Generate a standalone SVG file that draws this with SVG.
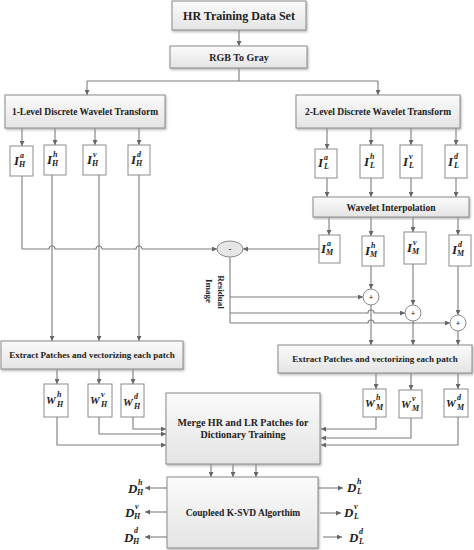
<svg xmlns="http://www.w3.org/2000/svg" width="474" height="550" viewBox="0 0 474 550">
<defs>
<linearGradient id="g" x1="0" y1="0" x2="0" y2="1"><stop offset="0" stop-color="#fbfbfb"/><stop offset="1" stop-color="#e4e4e4"/></linearGradient>
<filter id="sh" x="-5%" y="-5%" width="110%" height="120%"><feDropShadow dx="1" dy="1.5" stdDeviation="0.8" flood-color="#999" flood-opacity="0.7"/></filter>
<marker id="ah" viewBox="0 0 6 6" refX="6" refY="3" markerWidth="5" markerHeight="5" markerUnits="userSpaceOnUse" orient="auto"><path d="M0,0 L6,3 L0,6 z" fill="#666"/></marker>
<style>
.box{fill:url(#g);stroke:#8c8c8c;stroke-width:1;filter:url(#sh)}
.sb{fill:#fff;stroke:#8c8c8c;stroke-width:1}
.ln{fill:none;stroke:#7c7c7c;stroke-width:1.1}
.a{marker-end:url(#ah)}
.t{font-family:"Liberation Serif","Times New Roman",serif;font-weight:bold;fill:#222;text-anchor:middle}
.m{font-family:"Liberation Serif","Times New Roman",serif;font-weight:bold;font-style:italic;fill:#222;font-size:13px}
.w{font-size:11px}
.s{font-size:8px}
.op{fill:#e6e6e6;stroke:#8c8c8c;stroke-width:1}
.pc{fill:#fff;stroke:#8c8c8c;stroke-width:1}
</style>
</defs>
<g id="connectors">
<path class="ln a" d="M239 30 V46"/>
<path class="ln" d="M239 68 V81 M87 81 H378"/>
<path class="ln a" d="M87 81 V95"/>
<path class="ln a" d="M378 81 V95"/>
<path class="ln a" d="M22 128 V146"/>
<path class="ln a" d="M55 128 V145"/>
<path class="ln a" d="M95 128 V145"/>
<path class="ln a" d="M139 128 V145"/>
<path class="ln a" d="M22 176 V249 H49 A3 3 0 0 1 55 249 H96 A3 3 0 0 1 102 249 H136 A3 3 0 0 1 142 249 H217"/>
<path class="ln a" d="M52 175 V341"/>
<path class="ln a" d="M99 175 V341"/>
<path class="ln a" d="M139 175 V341"/>
<path class="ln a" d="M57 369 V384"/>
<path class="ln a" d="M99 369 V384"/>
<path class="ln a" d="M133 369 V384"/>
<path class="ln a" d="M57 417 V445 H166"/>
<path class="ln a" d="M99 417 V434 H166"/>
<path class="ln a" d="M133 417 V429 H166"/>
<path class="ln a" d="M327 128 V149"/>
<path class="ln a" d="M371 128 V145"/>
<path class="ln a" d="M411 128 V145"/>
<path class="ln a" d="M456 128 V145"/>
<path class="ln a" d="M327 178 V197"/>
<path class="ln a" d="M371 178 V197"/>
<path class="ln a" d="M411 178 V197"/>
<path class="ln a" d="M456 178 V197"/>
<path class="ln a" d="M329 217 V235"/>
<path class="ln a" d="M371 217 V236"/>
<path class="ln a" d="M413 217 V232"/>
<path class="ln a" d="M458 217 V235"/>
<path class="ln a" d="M319 249 H243"/>
<path class="ln a" d="M371 266 V289"/>
<path class="ln a" d="M413 264 V305"/>
<path class="ln a" d="M458 266 V315"/>
<path class="ln" d="M230 257 V323"/>
<path class="ln a" d="M230 297 H363"/>
<path class="ln a" d="M230 313 H368 A3 3 0 0 1 374 313 H405"/>
<path class="ln a" d="M230 323 H368 A3 3 0 0 1 374 323 H450"/>
<path class="ln a" d="M371 305 V345"/>
<path class="ln a" d="M413 321 V345"/>
<path class="ln a" d="M458 331 V345"/>
<path class="ln a" d="M376 373 V389"/>
<path class="ln a" d="M411 373 V390"/>
<path class="ln a" d="M458 373 V389"/>
<path class="ln a" d="M376 417 V429 H321"/>
<path class="ln a" d="M411 418 V438 H321"/>
<path class="ln a" d="M458 417 V445 H321"/>
<path class="ln a" d="M211 464 V477"/>
<path class="ln a" d="M233 464 V477"/>
<path class="ln a" d="M256 464 V477"/>
<path class="ln a" d="M167 488 H145"/>
<path class="ln a" d="M167 512 H145"/>
<path class="ln a" d="M167 537 H145"/>
<path class="ln a" d="M318 488 H343"/>
<path class="ln a" d="M320 513 H341"/>
<path class="ln a" d="M323 537 H342"/>
</g>
<g id="hr"><rect class="box" x="172" y="1" width="134" height="29"/><text class="t" x="239" y="20" font-size="12">HR Training Data Set</text></g>
<g id="rgb"><rect class="box" x="170" y="46" width="137" height="22"/><text class="t" x="239" y="60.5" font-size="10">RGB To Gray</text></g>
<g id="dwt1"><rect class="box" x="5" y="95" width="160" height="33"/><text class="t" x="85" y="115" font-size="9.5">1-Level Discrete Wavelet Transform</text></g>
<g id="dwt2"><rect class="box" x="296" y="95" width="164" height="33"/><text class="t" x="378" y="115" font-size="9.5">2-Level Discrete Wavelet Transform</text></g>
<g id="iha"><rect class="sb" x="10" y="146" width="23" height="30"/><text class="m"><tspan x="14" y="165">I</tspan><tspan class="s" x="20" y="158">a</tspan><tspan class="s" x="19" y="167">H</tspan></text></g>
<g id="ihh"><rect class="sb" x="44" y="145" width="22" height="30"/><text class="m"><tspan x="47" y="164">I</tspan><tspan class="s" x="53" y="157">h</tspan><tspan class="s" x="52" y="166">H</tspan></text></g>
<g id="ihv"><rect class="sb" x="83" y="145" width="23" height="30"/><text class="m"><tspan x="87" y="164">I</tspan><tspan class="s" x="93" y="157">v</tspan><tspan class="s" x="92" y="166">H</tspan></text></g>
<g id="ihd"><rect class="sb" x="128" y="145" width="22" height="30"/><text class="m"><tspan x="131" y="164">I</tspan><tspan class="s" x="137" y="157">d</tspan><tspan class="s" x="136" y="166">H</tspan></text></g>
<g id="ila"><rect class="sb" x="315" y="149" width="22" height="29"/><text class="m"><tspan x="318" y="167">I</tspan><tspan class="s" x="324" y="160">a</tspan><tspan class="s" x="324" y="169">L</tspan></text></g>
<g id="ilh"><rect class="sb" x="360" y="145" width="23" height="33"/><text class="m"><tspan x="364" y="166">I</tspan><tspan class="s" x="370" y="159">h</tspan><tspan class="s" x="370" y="168">L</tspan></text></g>
<g id="ilv"><rect class="sb" x="400" y="145" width="22" height="33"/><text class="m"><tspan x="403" y="166">I</tspan><tspan class="s" x="409" y="159">v</tspan><tspan class="s" x="409" y="168">L</tspan></text></g>
<g id="ild"><rect class="sb" x="445" y="145" width="22" height="33"/><text class="m"><tspan x="448" y="166">I</tspan><tspan class="s" x="454" y="159">d</tspan><tspan class="s" x="454" y="168">L</tspan></text></g>
<g id="wi"><rect class="box" x="313" y="197" width="156" height="20"/><text class="t" x="391" y="210.5" font-size="9.5">Wavelet Interpolation</text></g>
<g id="ima"><rect class="sb" x="319" y="235" width="21" height="28"/><text class="m"><tspan x="321" y="253">I</tspan><tspan class="s" x="327" y="246">a</tspan><tspan class="s" x="326" y="255">M</tspan></text></g>
<g id="imh"><rect class="sb" x="362" y="236" width="22" height="30"/><text class="m"><tspan x="365" y="255">I</tspan><tspan class="s" x="371" y="248">h</tspan><tspan class="s" x="370" y="257">M</tspan></text></g>
<g id="imv"><rect class="sb" x="404" y="232" width="22" height="32"/><text class="m"><tspan x="407" y="252">I</tspan><tspan class="s" x="413" y="245">v</tspan><tspan class="s" x="412" y="254">M</tspan></text></g>
<g id="imd"><rect class="sb" x="449" y="235" width="22" height="31"/><text class="m"><tspan x="452" y="254">I</tspan><tspan class="s" x="458" y="247">d</tspan><tspan class="s" x="457" y="256">M</tspan></text></g>
<g id="minus"><ellipse class="op" cx="230" cy="249" rx="13" ry="8"/><text class="t" x="230" y="252" font-size="9">-</text></g>
<g id="residual"><text class="t" font-size="9" transform="translate(217.5,292) rotate(90)">Residual</text><text class="t" font-size="9" transform="translate(206,291) rotate(90)">Image</text></g>
<g id="plus1"><circle class="pc" cx="371" cy="297" r="8"/><text class="t" x="371" y="300" font-size="8">+</text></g>
<g id="plus2"><circle class="pc" cx="413" cy="313" r="8"/><text class="t" x="413" y="316" font-size="8">+</text></g>
<g id="plus3"><circle class="pc" cx="458" cy="323" r="8"/><text class="t" x="458" y="326" font-size="8">+</text></g>
<g id="extl"><rect class="box" x="1" y="341" width="182" height="28"/><text class="t" x="92" y="358" font-size="9">Extract Patches and vectorizing each patch</text></g>
<g id="extr"><rect class="box" x="278" y="345" width="194" height="28"/><text class="t" x="375" y="362" font-size="9">Extract Patches and vectorizing each patch</text></g>
<g id="whh"><rect class="sb" x="44" y="384" width="24" height="33"/><text class="m w"><tspan x="46" y="404">W</tspan><tspan class="s" x="57" y="397">h</tspan><tspan class="s" x="57" y="407">H</tspan></text></g>
<g id="whv"><rect class="sb" x="88" y="384" width="24" height="33"/><text class="m w"><tspan x="90" y="404">W</tspan><tspan class="s" x="101" y="397">v</tspan><tspan class="s" x="101" y="407">H</tspan></text></g>
<g id="whd"><rect class="sb" x="121" y="384" width="23" height="33"/><text class="m w"><tspan x="123" y="406">W</tspan><tspan class="s" x="134" y="399">d</tspan><tspan class="s" x="134" y="409">H</tspan></text></g>
<g id="wmh"><rect class="sb" x="363" y="389" width="23" height="28"/><text class="m w"><tspan x="365" y="407">W</tspan><tspan class="s" x="376" y="400">h</tspan><tspan class="s" x="376" y="410">M</tspan></text></g>
<g id="wmv"><rect class="sb" x="399" y="390" width="23" height="28"/><text class="m w"><tspan x="401" y="408">W</tspan><tspan class="s" x="412" y="401">v</tspan><tspan class="s" x="412" y="411">M</tspan></text></g>
<g id="wmd"><rect class="sb" x="444" y="389" width="24" height="28"/><text class="m w"><tspan x="446" y="407">W</tspan><tspan class="s" x="457" y="400">d</tspan><tspan class="s" x="457" y="410">M</tspan></text></g>
<g id="merge"><rect class="box" x="166" y="393" width="154" height="71"/><text class="t" x="243" y="426" font-size="10">Merge HR and LR Patches for</text><text class="t" x="243" y="438" font-size="10">Dictionary Training</text></g>
<g id="ksvd"><rect class="box" x="167" y="477" width="151" height="71"/><text class="t" x="243" y="516" font-size="9.5">Coupleed K-SVD Algorthim</text></g>
<g id="dhh"><text class="m"><tspan x="128" y="493">D</tspan><tspan class="s" x="138" y="485">h</tspan><tspan class="s" x="137" y="495">H</tspan></text></g>
<g id="dhv"><text class="m"><tspan x="125" y="517">D</tspan><tspan class="s" x="135" y="509">v</tspan><tspan class="s" x="134" y="519">H</tspan></text></g>
<g id="dhd"><text class="m"><tspan x="124" y="542">D</tspan><tspan class="s" x="134" y="533">d</tspan><tspan class="s" x="133" y="544">H</tspan></text></g>
<g id="dlh"><text class="m"><tspan x="347" y="492">D</tspan><tspan class="s" x="357" y="484">h</tspan><tspan class="s" x="357" y="494">L</tspan></text></g>
<g id="dlv"><text class="m"><tspan x="344" y="517">D</tspan><tspan class="s" x="354" y="509">v</tspan><tspan class="s" x="354" y="519">L</tspan></text></g>
<g id="dld"><text class="m"><tspan x="349" y="542">D</tspan><tspan class="s" x="359" y="534">d</tspan><tspan class="s" x="359" y="544">L</tspan></text></g>
</svg>
